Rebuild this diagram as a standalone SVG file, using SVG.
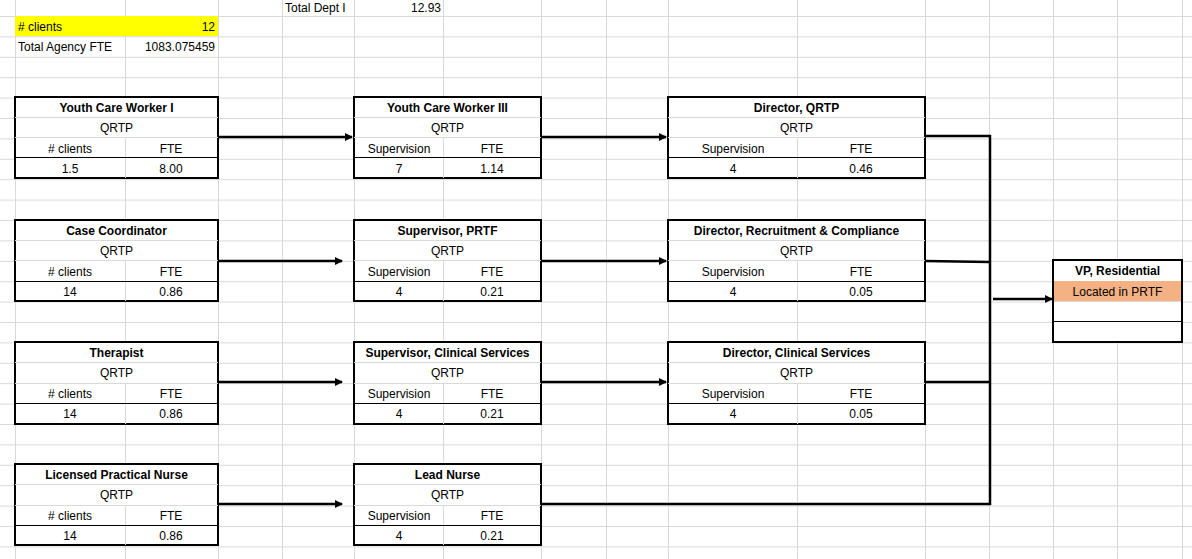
<svg xmlns="http://www.w3.org/2000/svg" width="1192" height="559" viewBox="0 0 1192 559">
<style>
text{font-family:"Liberation Sans",Arial,sans-serif;font-size:12px;fill:#000}
.b{font-weight:bold}
.m{text-anchor:middle}
.r{text-anchor:end}
.g{stroke:#D9D9D9;stroke-width:1}
.box{fill:#fff;stroke:#000;stroke-width:2}
.in{stroke:#D9D9D9;stroke-width:1}
.sep{stroke:#000;stroke-width:1}
.c{stroke:#000;stroke-width:2.5;fill:none}
</style>
<defs>
<pattern id="hp" width="1192" height="20.4" patternUnits="userSpaceOnUse" y="16"><line x1="0" y1="0.5" x2="1192" y2="0.5" class="g"/></pattern>
<marker id="ah" markerWidth="8" markerHeight="8" refX="7" refY="4" orient="auto" markerUnits="userSpaceOnUse"><path d="M0,0 L8,4 L0,8 Z" fill="#000"/></marker>
</defs>
<rect width="1192" height="559" fill="#fff"/>
<rect width="1192" height="559" fill="url(#hp)"/>
<g id="grid" class="g">
<line x1="15.5" y1="0" x2="15.5" y2="559"/><line x1="125.5" y1="0" x2="125.5" y2="559"/><line x1="218.5" y1="0" x2="218.5" y2="559"/><line x1="282.5" y1="0" x2="282.5" y2="559"/><line x1="354.5" y1="0" x2="354.5" y2="559"/><line x1="443.5" y1="0" x2="443.5" y2="559"/><line x1="541.5" y1="0" x2="541.5" y2="559"/><line x1="606.5" y1="0" x2="606.5" y2="559"/><line x1="668.5" y1="0" x2="668.5" y2="559"/><line x1="797.5" y1="0" x2="797.5" y2="559"/><line x1="925.5" y1="0" x2="925.5" y2="559"/><line x1="989.5" y1="0" x2="989.5" y2="559"/><line x1="1053.5" y1="0" x2="1053.5" y2="559"/><line x1="1117.5" y1="0" x2="1117.5" y2="559"/><line x1="1182.5" y1="0" x2="1182.5" y2="559"/>
</g>
<g id="header">
<rect x="15" y="16" width="203" height="20" fill="#FFFF00"/>
<text x="18" y="31">
# clients</text><text x="215" y="31" class="r">12</text>
<text x="18" y="51">Total Agency FTE</text><text x="215" y="51" class="r">1083.075459</text>
<rect x="283" y="0" width="70" height="15" fill="#fff"/>
<text x="285" y="12">Total Dept I</text><text x="441" y="12" class="r">12.93</text>
</g>
<g id="n1"><rect class="box" x="15" y="97" width="203" height="81"/><line class="in" x1="15" y1="117.5" x2="218" y2="117.5"/><line class="in" x1="15" y1="137.5" x2="218" y2="137.5"/><line class="in" x1="125.5" y1="137" x2="125.5" y2="178"/><line class="sep" x1="15" y1="157.5" x2="218" y2="157.5"/>
<text x="116.5" y="112" class="m b">Youth Care Worker I</text><text x="116.5" y="132" class="m">QRTP</text><text x="70" y="153" class="m">
# clients</text><text x="171" y="153" class="m">FTE</text><text x="70" y="173" class="m">1.5</text><text x="171" y="173" class="m">8.00</text></g>
<g id="n2"><rect class="box" x="354" y="97" width="187" height="81"/><line class="in" x1="354" y1="117.5" x2="541" y2="117.5"/><line class="in" x1="354" y1="137.5" x2="541" y2="137.5"/><line class="in" x1="443.5" y1="137" x2="443.5" y2="178"/><line class="sep" x1="354" y1="157.5" x2="541" y2="157.5"/>
<text x="447.5" y="112" class="m b">Youth Care Worker III</text><text x="447.5" y="132" class="m">QRTP</text><text x="399" y="153" class="m">Supervision</text><text x="492" y="153" class="m">FTE</text><text x="399" y="173" class="m">7</text><text x="492" y="173" class="m">1.14</text></g>
<g id="n3"><rect class="box" x="668" y="97" width="257" height="81"/><line class="in" x1="668" y1="117.5" x2="925" y2="117.5"/><line class="in" x1="668" y1="137.5" x2="925" y2="137.5"/><line class="in" x1="797.5" y1="137" x2="797.5" y2="178"/><line class="sep" x1="668" y1="157.5" x2="925" y2="157.5"/>
<text x="796.5" y="112" class="m b">Director, QRTP</text><text x="796.5" y="132" class="m">QRTP</text><text x="733" y="153" class="m">Supervision</text><text x="861" y="153" class="m">FTE</text><text x="733" y="173" class="m">4</text><text x="861" y="173" class="m">0.46</text></g>

<g id="n4"><rect class="box" x="15" y="220" width="203" height="81"/><line class="in" x1="15" y1="240.5" x2="218" y2="240.5"/><line class="in" x1="15" y1="260.5" x2="218" y2="260.5"/><line class="in" x1="125.5" y1="260" x2="125.5" y2="301"/><line class="sep" x1="15" y1="281.5" x2="218" y2="281.5"/>
<text x="116.5" y="235" class="m b">Case Coordinator</text><text x="116.5" y="255" class="m">QRTP</text><text x="70" y="276" class="m">
# clients</text><text x="171" y="276" class="m">FTE</text><text x="70" y="296" class="m">14</text><text x="171" y="296" class="m">0.86</text></g>
<g id="n5"><rect class="box" x="354" y="220" width="187" height="81"/><line class="in" x1="354" y1="240.5" x2="541" y2="240.5"/><line class="in" x1="354" y1="260.5" x2="541" y2="260.5"/><line class="in" x1="443.5" y1="260" x2="443.5" y2="301"/><line class="sep" x1="354" y1="281.5" x2="541" y2="281.5"/>
<text x="447.5" y="235" class="m b">Supervisor, PRTF</text><text x="447.5" y="255" class="m">QRTP</text><text x="399" y="276" class="m">Supervision</text><text x="492" y="276" class="m">FTE</text><text x="399" y="296" class="m">4</text><text x="492" y="296" class="m">0.21</text></g>
<g id="n6"><rect class="box" x="668" y="220" width="257" height="81"/><line class="in" x1="668" y1="240.5" x2="925" y2="240.5"/><line class="in" x1="668" y1="260.5" x2="925" y2="260.5"/><line class="in" x1="797.5" y1="260" x2="797.5" y2="301"/><line class="sep" x1="668" y1="281.5" x2="925" y2="281.5"/>
<text x="796.5" y="235" class="m b">Director, Recruitment &amp; Compliance</text><text x="796.5" y="255" class="m">QRTP</text><text x="733" y="276" class="m">Supervision</text><text x="861" y="276" class="m">FTE</text><text x="733" y="296" class="m">4</text><text x="861" y="296" class="m">0.05</text></g>

<g id="n7"><rect class="box" x="15" y="342" width="203" height="82"/><line class="in" x1="15" y1="362.5" x2="218" y2="362.5"/><line class="in" x1="15" y1="383.5" x2="218" y2="383.5"/><line class="in" x1="125.5" y1="383" x2="125.5" y2="424"/><line class="sep" x1="15" y1="403.5" x2="218" y2="403.5"/>
<text x="116.5" y="357" class="m b">Therapist</text><text x="116.5" y="377" class="m">QRTP</text><text x="70" y="398" class="m">
# clients</text><text x="171" y="398" class="m">FTE</text><text x="70" y="418" class="m">14</text><text x="171" y="418" class="m">0.86</text></g>
<g id="n8"><rect class="box" x="354" y="342" width="187" height="82"/><line class="in" x1="354" y1="362.5" x2="541" y2="362.5"/><line class="in" x1="354" y1="383.5" x2="541" y2="383.5"/><line class="in" x1="443.5" y1="383" x2="443.5" y2="424"/><line class="sep" x1="354" y1="403.5" x2="541" y2="403.5"/>
<text x="447.5" y="357" class="m b">Supervisor, Clinical Services</text><text x="447.5" y="377" class="m">QRTP</text><text x="399" y="398" class="m">Supervision</text><text x="492" y="398" class="m">FTE</text><text x="399" y="418" class="m">4</text><text x="492" y="418" class="m">0.21</text></g>
<g id="n9"><rect class="box" x="668" y="342" width="257" height="82"/><line class="in" x1="668" y1="362.5" x2="925" y2="362.5"/><line class="in" x1="668" y1="383.5" x2="925" y2="383.5"/><line class="in" x1="797.5" y1="383" x2="797.5" y2="424"/><line class="sep" x1="668" y1="403.5" x2="925" y2="403.5"/>
<text x="796.5" y="357" class="m b">Director, Clinical Services</text><text x="796.5" y="377" class="m">QRTP</text><text x="733" y="398" class="m">Supervision</text><text x="861" y="398" class="m">FTE</text><text x="733" y="418" class="m">4</text><text x="861" y="418" class="m">0.05</text></g>

<g id="n10"><rect class="box" x="15" y="464" width="203" height="81"/><line class="in" x1="15" y1="484.5" x2="218" y2="484.5"/><line class="in" x1="15" y1="505.5" x2="218" y2="505.5"/><line class="in" x1="125.5" y1="505" x2="125.5" y2="545"/><line class="sep" x1="15" y1="525.5" x2="218" y2="525.5"/>
<text x="116.5" y="479" class="m b">Licensed Practical Nurse</text><text x="116.5" y="499" class="m">QRTP</text><text x="70" y="520" class="m">
# clients</text><text x="171" y="520" class="m">FTE</text><text x="70" y="540" class="m">14</text><text x="171" y="540" class="m">0.86</text></g>
<g id="n11"><rect class="box" x="354" y="464" width="187" height="81"/><line class="in" x1="354" y1="484.5" x2="541" y2="484.5"/><line class="in" x1="354" y1="505.5" x2="541" y2="505.5"/><line class="in" x1="443.5" y1="505" x2="443.5" y2="545"/><line class="sep" x1="354" y1="525.5" x2="541" y2="525.5"/>
<text x="447.5" y="479" class="m b">Lead Nurse</text><text x="447.5" y="499" class="m">QRTP</text><text x="399" y="520" class="m">Supervision</text><text x="492" y="520" class="m">FTE</text><text x="399" y="540" class="m">4</text><text x="492" y="540" class="m">0.21</text></g>

<g id="vp"><rect class="box" x="1053" y="260" width="129" height="82"/><rect x="1054" y="281" width="127" height="20" fill="#F4B183"/><line class="in" x1="1054" y1="301.5" x2="1181" y2="301.5"/><line class="sep" x1="1053" y1="321.5" x2="1182" y2="321.5"/>
<text x="1117.5" y="275" class="m b">VP, Residential</text><text x="1117.5" y="296" class="m">Located in PRTF</text></g>

<g id="connectors">
<line class="c" x1="218" y1="137" x2="352" y2="137" marker-end="url(#ah)"/>
<line class="c" x1="541" y1="137" x2="666" y2="137" marker-end="url(#ah)"/>
<line class="c" x1="218" y1="261" x2="342" y2="261" marker-end="url(#ah)"/>
<line class="c" x1="541" y1="261" x2="666" y2="261" marker-end="url(#ah)"/>
<line class="c" x1="218" y1="382" x2="342" y2="382" marker-end="url(#ah)"/>
<line class="c" x1="541" y1="382" x2="666" y2="382" marker-end="url(#ah)"/>
<line class="c" x1="218" y1="504" x2="342" y2="504" marker-end="url(#ah)"/>
<polyline class="c" points="925,136 990,136 990,504 541,504"/>
<line class="c" x1="925" y1="261" x2="990" y2="262"/>
<line class="c" x1="925" y1="382" x2="990" y2="382"/>
<line class="c" x1="993" y1="299" x2="1052" y2="299" marker-end="url(#ah)"/>
</g>
</svg>
